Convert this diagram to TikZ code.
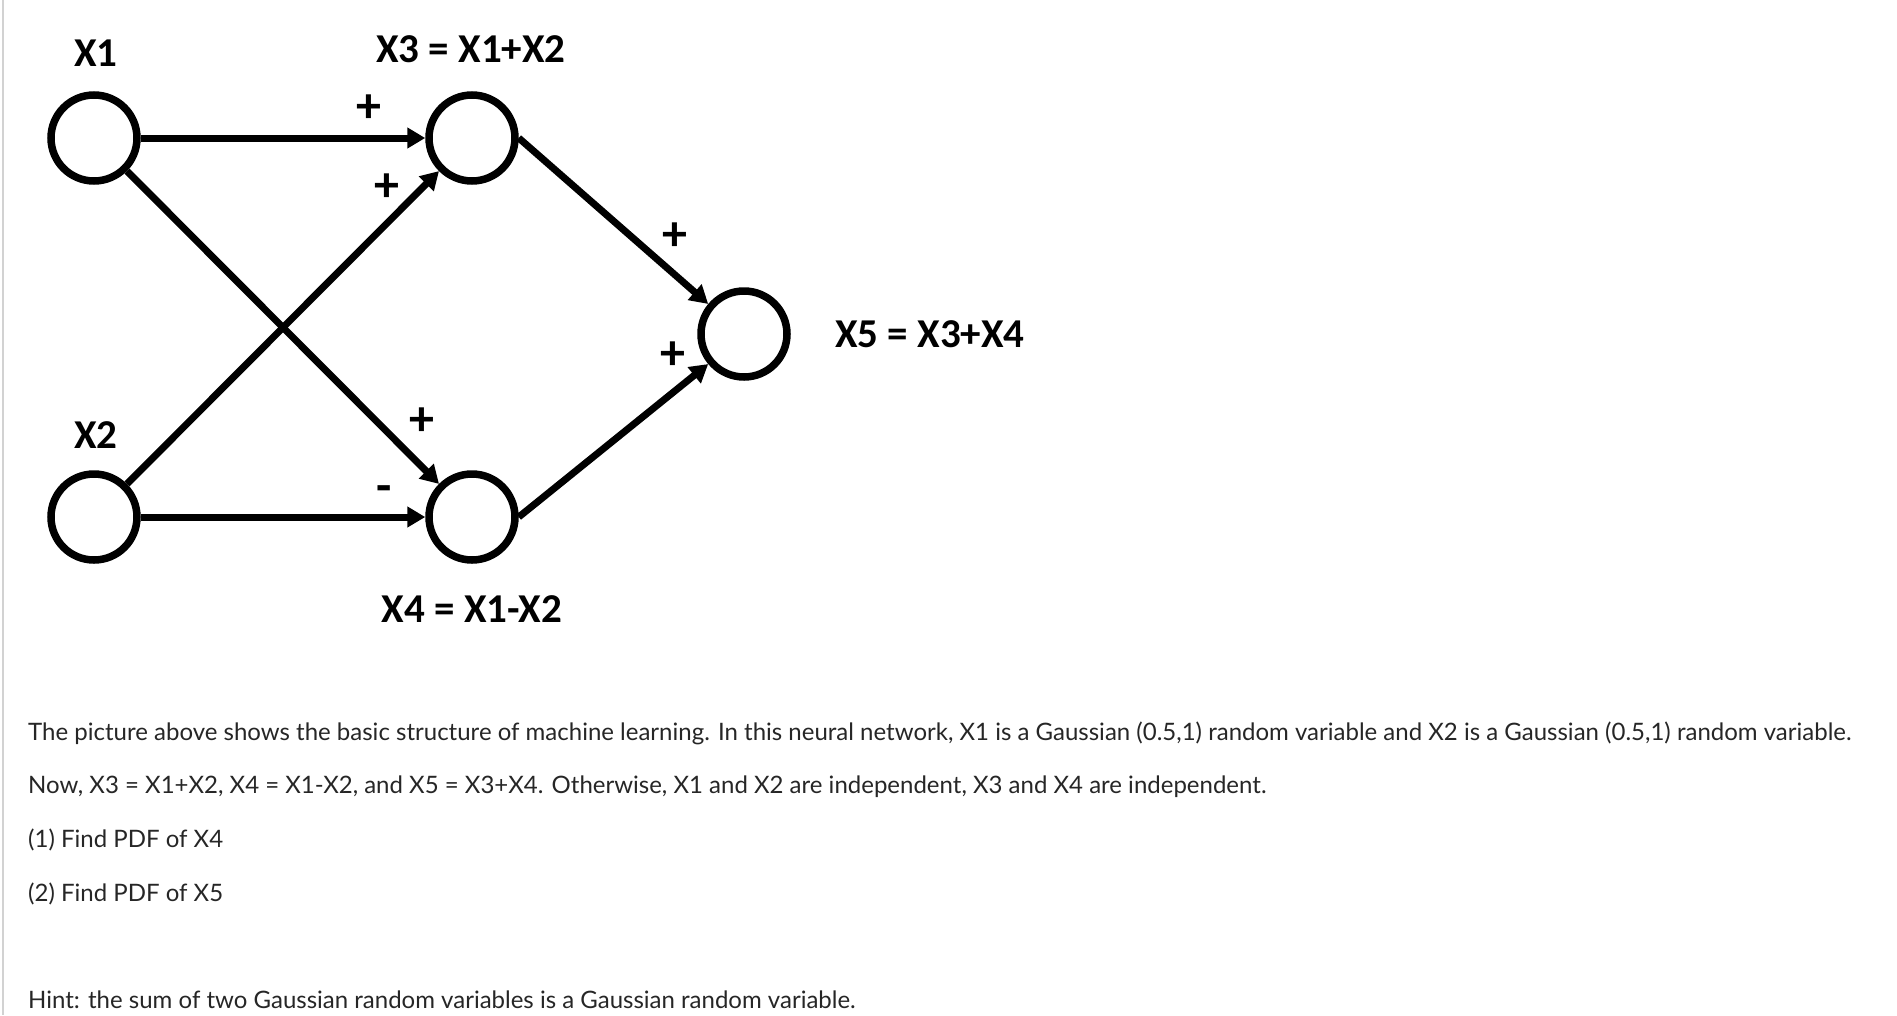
\documentclass[tikz,border=0pt]{standalone}
\usepackage{fontspec}
\setmainfont{Lato}
\newfontfamily\calfont{Carlito}
\usetikzlibrary{arrows.meta}

\tikzset{
  neuron/.style={circle,draw=black,line width=7.5pt,minimum size=86pt,inner sep=0pt},
  wire/.style={line width=7pt,-{Triangle[length=18pt,width=20pt]}},
  varname/.style={font=\calfont\bfseries\fontsize{41}{48}\selectfont,inner sep=0pt,anchor=base},
  sign/.style={font=\calfont\bfseries\fontsize{50}{58}\selectfont,inner sep=0pt},
  txt/.style={font=\fontsize{24}{29}\selectfont,text=black!85,inner sep=0pt,anchor=base west}
}

\begin{document}
\begin{tikzpicture}[x=1pt,y=-1pt]
      \useasboundingbox (0,0) rectangle (1897,1015);
      \draw[gray!35,line width=1.5pt] (3,0) -- (3,1015);

      \node[neuron] (x1) at (94,138) {};
      \node[neuron] (x2) at (94,517) {};
      \node[neuron] (x3) at (472,138) {};
      \node[neuron] (x4) at (472,517) {};
      \node[neuron] (x5) at (744,334) {};

      \node[varname] (lx1) at (96,66) {X1};
      \node[varname] (lx2) at (96,448) {X2};
      \node[varname] (lx3) at (471,62) {X3 = X1+X2};
      \node[varname] (lx4) at (472,622) {X4 = X1-X2};
      \node[varname] (lx5) at (930,347) {X5 = X3+X4};

      \draw[wire] (x1) -- (x3);
      \draw[wire] (x2) -- (x3);
      \draw[wire] (x1) -- (x4);
      \draw[wire] (x2) -- (x4);
      \draw[wire] (x3.east) -- (x5.140);
      \draw[wire] (x4.east) -- (x5.220);

      \node[sign] (s13) at (369,109) {+};
      \node[sign] (s23) at (387,188) {+};
      \node[sign] (s14) at (422,422) {+};
      \node[sign] (s24) at (384,494) {-};
      \node[sign] (s35) at (675,237) {+};
      \node[sign] (s45) at (673,356) {+};

      \node[txt] (line1) at (28,740) {The picture above shows the basic structure of machine learning. In this neural network, X1 is a Gaussian (0.5,1) random variable and X2 is a Gaussian (0.5,1) random variable.};
      \node[txt] (line2) at (28,793) {Now, X3 = X1+X2, X4 = X1-X2, and X5 = X3+X4. Otherwise, X1 and X2 are independent, X3 and X4 are independent.};
      \node[txt] (line3) at (28,847) {(1) Find PDF of X4};
      \node[txt] (line4) at (28,901) {(2) Find PDF of X5};
      \node[txt] (hint) at (28,1008) {Hint: the sum of two Gaussian random variables is a Gaussian random variable.};
\end{tikzpicture}
\end{document}
